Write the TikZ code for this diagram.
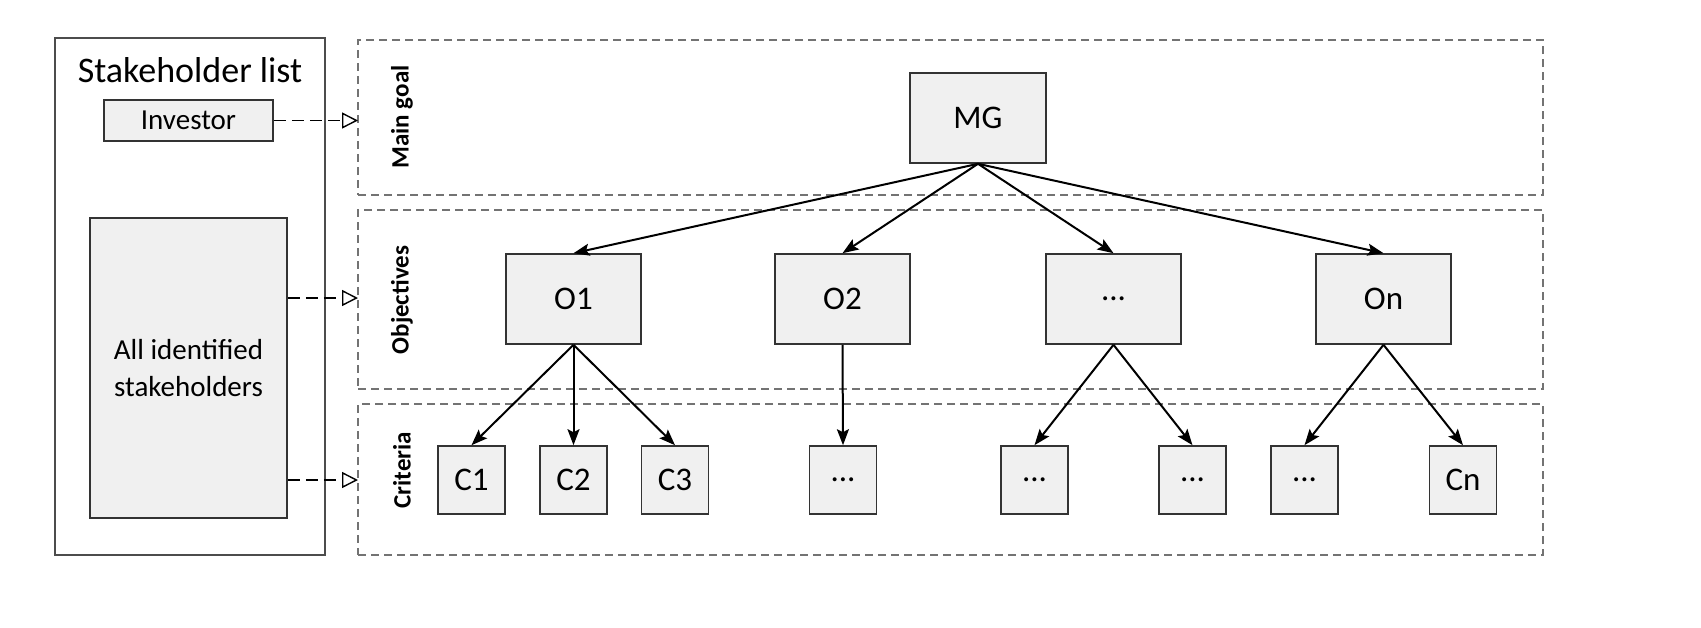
\documentclass[tikz,border=0pt]{standalone}
\usepackage{fontspec}
\setmainfont{Carlito}
\usetikzlibrary{arrows.meta}
\newcommand{\dd}{...}
\begin{document}
\begin{tikzpicture}[x=1pt,y=-1pt,
  box/.style={draw=black!80,line width=1.6pt,fill=black!6,inner sep=0pt,font=\fontsize{33}{36}\selectfont},
  band/.style={draw=black!55,dashed,dash pattern=on 8pt off 5pt,line width=1.2pt},
  blab/.style={rotate=90,font=\fontsize{25}{28}\selectfont\bfseries},
  arr/.style={line width=2pt,-{Stealth[length=16pt,width=12pt,inset=3pt]}},
  darr/.style={line width=1.4pt,dash pattern=on 12pt off 6pt,-{Triangle[open,length=16pt,width=16pt]}}]
\useasboundingbox (0,0) rectangle (1701,627);
% stakeholder column
\node[draw=black!70,line width=1.2pt,minimum width=270pt,minimum height=517pt,inner sep=0pt] (sl) at (190,296.5) {};
\node[font=\fontsize{36}{40}\selectfont] (slt) at (190,70) {Stakeholder list};
\node[box,minimum width=169pt,minimum height=41pt,font=\fontsize{29}{32}\selectfont] (inv) at (188.5,120.5) {Investor};
\node[box,minimum width=197pt,minimum height=300pt,align=center,font=\fontsize{29}{37}\selectfont] (all) at (188.5,368) {All identified\\stakeholders};
% bands
\node[band,minimum width=1185pt,minimum height=155pt,inner sep=0pt] (b1) at (950.5,117.5) {};
\node[band,minimum width=1185pt,minimum height=179pt,inner sep=0pt] (b2) at (950.5,299.5) {};
\node[band,minimum width=1185pt,minimum height=151pt,inner sep=0pt] (b3) at (950.5,479.5) {};
\node[blab] (l1) at (402,117) {Main goal};
\node[blab] (l2) at (402,300) {Objectives};
\node[blab] (l3) at (402,470) {Criteria};
\coordinate (t1) at (358,120.5);
\coordinate (t2) at (358,298);
\coordinate (t3) at (358,480);
\draw[darr] (inv.east) -- (t1);
\draw[darr] (all.east |- t2) -- (t2);
\draw[darr] (all.east |- t3) -- (t3);
% hierarchy
\node[box,minimum width=136pt,minimum height=90pt] (mg) at (978,118) {MG};
\node[box,minimum width=135pt,minimum height=90pt] (o1) at (573.5,299) {O1};
\node[box,minimum width=135pt,minimum height=90pt] (o2) at (842.5,299) {O2};
\node[box,minimum width=135pt,minimum height=90pt] (o3) at (1113.5,299) {...};
\node[box,minimum width=135pt,minimum height=90pt] (on) at (1383.5,299) {On};
\foreach \n/\x/\t in {c1/471.5/C1,c2/573.5/C2,c3/675/C3,c4/843/\dd,c5/1034.5/\dd,c6/1192.5/\dd,c7/1304.5/\dd,cn/1463/Cn}
  \node[box,minimum width=67pt,minimum height=68pt] (\n) at (\x,480) {\t};
\foreach \o in {o1,o2,o3,on} \draw[arr] (mg.south) -- (\o.north);
\foreach \c in {c1,c2,c3} \draw[arr] (o1.south) -- (\c.north);
\draw[arr] (o2.south) -- (c4.north);
\draw[arr] (o3.south) -- (c5.north);
\draw[arr] (o3.south) -- (c6.north);
\draw[arr] (on.south) -- (c7.north);
\draw[arr] (on.south) -- (cn.north);
\end{tikzpicture}
\end{document}
